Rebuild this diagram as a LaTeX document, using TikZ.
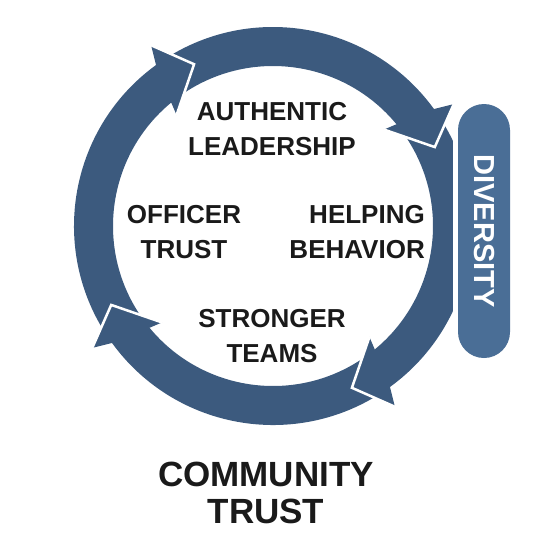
\documentclass[tikz,border=0pt]{standalone}
\usepackage{fontspec}
\setmainfont{Liberation Sans}
\usetikzlibrary{positioning}
\definecolor{ringblue}{HTML}{3C5A7E}
\definecolor{pillblue}{HTML}{4A6E96}
\definecolor{inkblack}{HTML}{1A1A1A}
\tikzstyle{cyclearrow} = [fill=ringblue]
\tikzstyle{gapline} = [draw=white, line width=2.5pt, line join=miter]
\tikzstyle{stage} = [align=center, inner sep=0pt, text=inkblack, font=\bfseries\fontsize{26}{35}\selectfont]
\tikzstyle{outcome} = [align=center, inner sep=0pt, text=inkblack, font=\bfseries\fontsize{35}{37}\selectfont]
\tikzstyle{pill} = [rectangle, rounded corners=26pt, minimum width=254pt, minimum height=52pt, inner sep=0pt, fill=pillblue, preaction={draw=white, line width=10pt}, text=white, font=\bfseries\fontsize{29}{29}\selectfont]

\begin{document}
\begin{tikzpicture}[x=1pt, y=1pt]
    \useasboundingbox (0,0) rectangle (550,-550);
    \coordinate (hub) at (273,-226);

    % the four arrows of the cycle
    \begin{scope}[shift={(hub)}]
        \fill [cyclearrow] (216:199pt) arc[start angle=216, end angle=126, radius=199pt] -- (124:218pt) -- (116:180pt) -- (131:147pt) -- (129.5:160pt) arc[start angle=129.5, end angle=216, radius=160pt] -- cycle;
        \fill [cyclearrow] (126:199pt) arc[start angle=126, end angle=36, radius=199pt] -- (34:218pt) -- (26:180pt) -- (41:147pt) -- (39.5:160pt) arc[start angle=39.5, end angle=126, radius=160pt] -- cycle;
        \fill [cyclearrow] (36:199pt) arc[start angle=36, end angle=-54, radius=199pt] -- (-56:218pt) -- (-64:180pt) -- (-49:147pt) -- (-50.5:160pt) arc[start angle=-50.5, end angle=36, radius=160pt] -- cycle;
        \fill [cyclearrow] (-54:199pt) arc[start angle=-54, end angle=-144, radius=199pt] -- (-146:218pt) -- (-154:180pt) -- (-139:147pt) -- (-140.5:160pt) arc[start angle=-140.5, end angle=-54, radius=160pt] -- cycle;

        % white edges where a head lies on the next arrow
        \draw [gapline] (124:218pt) -- (116:180pt) -- (131:147pt);
        \draw [gapline] (34:218pt) -- (26:180pt) -- (41:147pt);
        \draw [gapline] (-56:218pt) -- (-64:180pt) -- (-49:147pt);
        \draw [gapline] (-146:218pt) -- (-154:180pt) -- (-139:147pt);
    \end{scope}

    \node (diversity) [pill, rotate=-90] at (484,-231) {DIVERSITY};

    \node (leadership) [stage] at (272,-129.5) {AUTHENTIC\\LEADERSHIP};
    \node (officer) [stage] at (184,-232.5) {OFFICER\\TRUST};
    \node (helping) [stage, align=right, anchor=east] at (425,-232.5) {HELPING\\BEHAVIOR};
    \node (teams) [stage] at (272,-336) {STRONGER\\TEAMS};
    \node (community) [outcome] at (266,-493) {COMMUNITY\\TRUST};
\end{tikzpicture}
\end{document}
